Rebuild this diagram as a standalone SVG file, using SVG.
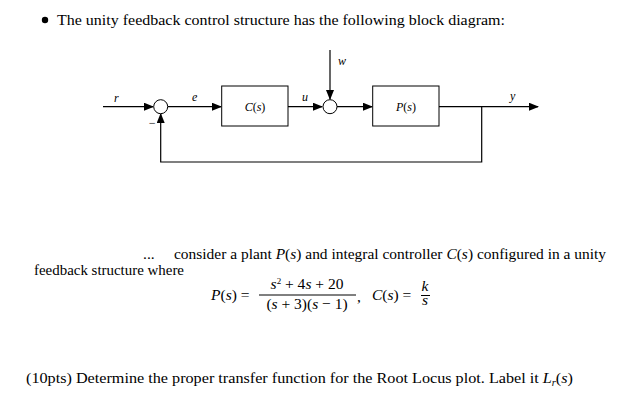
<svg xmlns="http://www.w3.org/2000/svg" width="626" height="401" viewBox="0 0 626 401">
<defs><marker id="a" markerWidth="10" markerHeight="8" refX="9" refY="4" orient="auto" markerUnits="userSpaceOnUse"><path d="M0,0L10,4L0,8z" fill="#000"/></marker></defs>
<style>.t{font-family:"Liberation Serif",serif;font-size:15.5px;fill:#000}.m{font-family:"Liberation Serif",serif;font-style:italic;font-size:12px;fill:#000}.b{fill:#fff;stroke:#000;stroke-width:1}.l{fill:none;stroke:#000;stroke-width:1.2}</style>
<rect width="626" height="401" fill="#fff"/>
<circle cx="45" cy="20" r="3.2" fill="#000"/>
<text class="t" x="57" y="25" textLength="448" lengthAdjust="spacingAndGlyphs">The unity feedback control structure has the following block diagram:</text>
<g id="connectors">
<path class="l" d="M103,106.7H153" marker-end="url(#a)"/>
<path class="l" d="M168,106.7H221" marker-end="url(#a)"/>
<path class="l" d="M288,106.7H322" marker-end="url(#a)"/>
<path class="l" d="M330,50V99" marker-end="url(#a)"/>
<path class="l" d="M337,106.7H372" marker-end="url(#a)"/>
<path class="l" d="M439,106.7H538" marker-end="url(#a)"/>
<path class="l" d="M481.7,106.7V162H160.7V114" marker-end="url(#a)"/>
</g>
<g id="sum1"><circle class="b" cx="160.7" cy="106.7" r="7"/></g>
<g id="sum2"><circle class="b" cx="330" cy="106.7" r="7"/></g>
<g id="C"><rect class="b" x="221.7" y="86" width="66.3" height="40"/><text class="m" x="255" y="111" text-anchor="middle" font-size="13"><tspan font-style="italic">C</tspan><tspan font-style="normal">(</tspan>s<tspan font-style="normal">)</tspan></text></g>
<g id="P"><rect class="b" x="372.7" y="86" width="66.3" height="40"/><text class="m" x="406" y="111" text-anchor="middle" font-size="13">P<tspan font-style="normal">(</tspan>s<tspan font-style="normal">)</tspan></text></g>
<text class="m" x="114" y="102">r</text>
<text class="m" x="192" y="101">e</text>
<text class="m" x="302" y="101">u</text>
<text class="m" x="338" y="65">w</text>
<text class="m" x="510" y="100">y</text>
<text class="m" x="148" y="127" font-style="normal">−</text>
<text class="t" x="143" y="259" font-size="8">...</text>
<text class="t" x="174" y="259" textLength="432" lengthAdjust="spacingAndGlyphs">consider a plant <tspan font-style="italic">P</tspan>(<tspan font-style="italic">s</tspan>) and integral controller <tspan font-style="italic">C</tspan>(<tspan font-style="italic">s</tspan>) configured in a unity</text>
<text class="t" x="34" y="275" textLength="150" lengthAdjust="spacingAndGlyphs">feedback structure where</text>
<text class="t" x="211" y="300" font-size="14"><tspan font-style="italic">P</tspan>(<tspan font-style="italic">s</tspan>) =</text>
<text class="t" x="307" y="289" font-size="13" text-anchor="middle"><tspan font-style="italic">s</tspan><tspan dy="-5" font-size="9">2</tspan><tspan dy="5"> + 4</tspan><tspan font-style="italic">s</tspan> + 20</text>
<line x1="259" y1="295" x2="356" y2="295" stroke="#000" stroke-width="1"/>
<text class="t" x="307" y="309" font-size="13" text-anchor="middle">(<tspan font-style="italic">s</tspan> + 3)(<tspan font-style="italic">s</tspan> − 1)</text>
<text class="t" x="357" y="302" font-size="13">,</text>
<text class="t" x="372" y="300" font-size="14"><tspan font-style="italic">C</tspan>(<tspan font-style="italic">s</tspan>) =</text>
<text class="t" x="425" y="291" font-size="11" font-style="italic" text-anchor="middle">k</text>
<line x1="421" y1="295.5" x2="430" y2="295.5" stroke="#000" stroke-width="1"/>
<text class="t" x="425" y="305" font-size="11" font-style="italic" text-anchor="middle">s</text>
<text class="t" x="26" y="383" textLength="547" lengthAdjust="spacingAndGlyphs">(10pts) Determine the proper transfer function for the Root Locus plot. Label it <tspan font-style="italic">L</tspan><tspan font-style="italic" font-size="10" dy="3">r</tspan><tspan dy="-3">(<tspan font-style="italic">s</tspan>)</tspan></text>
</svg>
